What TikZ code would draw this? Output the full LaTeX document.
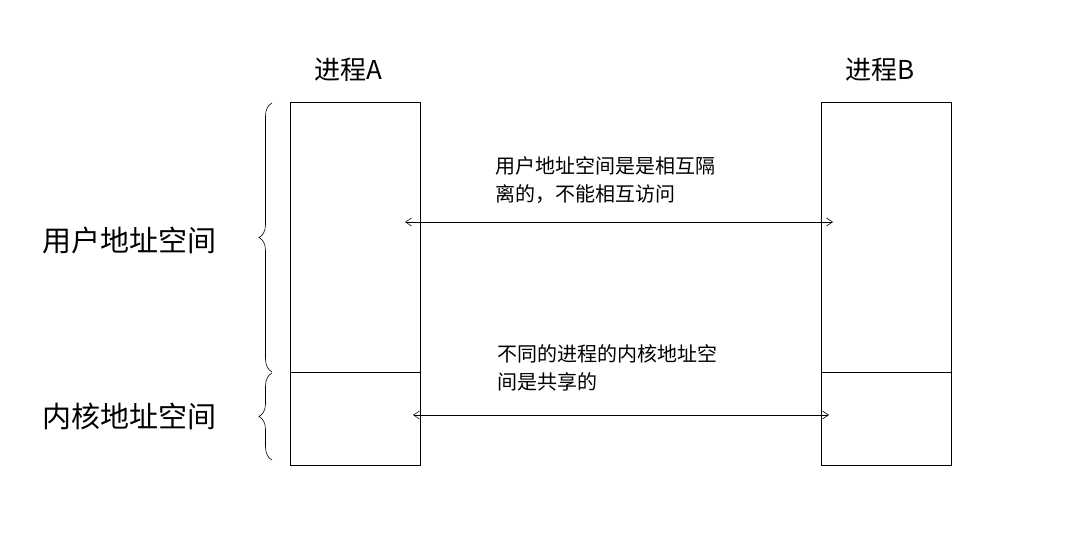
\documentclass[tikz,border=0pt]{standalone}
\usepackage{fontspec}
\setmainfont{Noto Sans CJK SC}
\usetikzlibrary{decorations.pathreplacing,arrows.meta}
\begin{document}
\begin{tikzpicture}[x=1pt,y=-1pt,
  box/.style={draw,line width=0.8pt},
  big/.style={font=\fontsize{29}{32}\selectfont,inner sep=0},
  head/.style={font=\fontsize{26}{30}\selectfont,inner sep=0},
  note/.style={font=\fontsize{20}{28}\selectfont,align=left,anchor=north west,inner sep=0},
  link/.style={{Straight Barb[length=6pt,width=8pt]}-{Straight Barb[length=6pt,width=8pt]},line width=0.6pt},
  br/.style={decorate,decoration={brace,amplitude=13pt},line width=0.6pt}]
\useasboundingbox (0,0) rectangle (1080,545);
\draw[box] (290,102) rectangle (420,465);
\draw[box] (290,372) -- (420,372);
\draw[box] (821,102) rectangle (951,465);
\draw[box] (821,372) -- (951,372);
\node[head] (A) at (348,70) {进程A};
\node[head] (B) at (880,70) {进程B};
\draw[br] (272,372) -- (272,103);
\draw[br] (272,460) -- (272,373);
\node[big] (u) at (129,240) {用户地址空间};
\node[big] (k) at (129,416) {内核地址空间};
\coordinate (a1) at (405,222); \coordinate (b1) at (833,222);
\coordinate (a2) at (413,415); \coordinate (b2) at (829,415);
\draw[link] (a1) -- (b1);
\draw[link] (a2) -- (b2);
\node[note] (t1) at (495,156) {用户地址空间是是相互隔\\离的，不能相互访问};
\node[note] (t2) at (497,344) {不同的进程的内核地址空\\间是共享的};
\end{tikzpicture}
\end{document}
